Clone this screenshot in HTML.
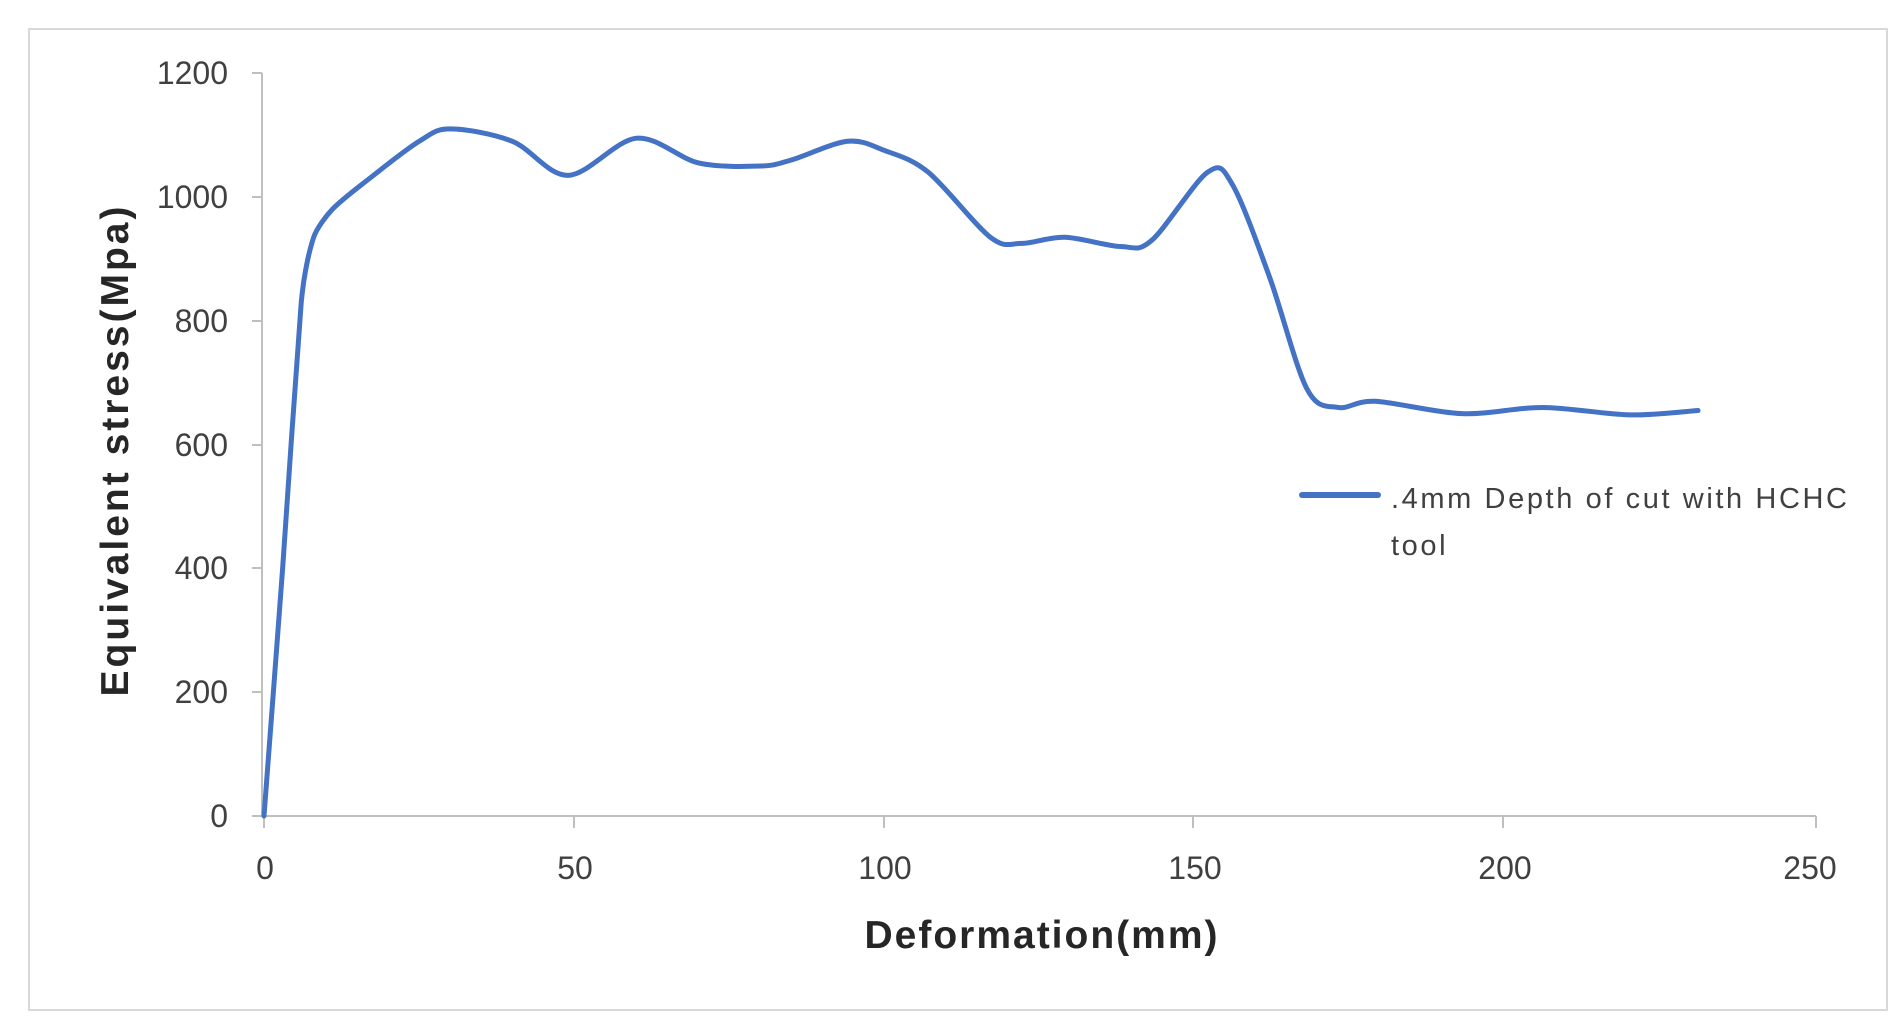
<!DOCTYPE html>
<html><head><meta charset="utf-8"><style>
body{margin:0;background:#fff;}
svg{display:block;}
text{font-family:"Liberation Sans",sans-serif;}
</style></head><body>
<svg width="1889" height="1022" viewBox="0 0 1889 1022" xmlns="http://www.w3.org/2000/svg">
<rect x="29" y="29" width="1858" height="981" fill="#fff" stroke="#d9d9d9" stroke-width="2"/>
<g stroke="#bfbfbf" stroke-width="2" fill="none">
<line x1="262" y1="73" x2="262" y2="816"/>
<line x1="262" y1="816" x2="1816" y2="816"/>
<line x1="252" y1="73" x2="262" y2="73"/>
<line x1="252" y1="197" x2="262" y2="197"/>
<line x1="252" y1="321" x2="262" y2="321"/>
<line x1="252" y1="445" x2="262" y2="445"/>
<line x1="252" y1="568" x2="262" y2="568"/>
<line x1="252" y1="692" x2="262" y2="692"/>
<line x1="252" y1="816" x2="262" y2="816"/>
<line x1="264" y1="816" x2="264" y2="828"/>
<line x1="574" y1="816" x2="574" y2="828"/>
<line x1="884" y1="816" x2="884" y2="828"/>
<line x1="1193" y1="816" x2="1193" y2="828"/>
<line x1="1503" y1="816" x2="1503" y2="828"/>
<line x1="1816" y1="816" x2="1816" y2="828"/>
</g>
<g fill="#404040" font-size="32" text-anchor="end">
<text x="228" y="84">1200</text>
<text x="228" y="208">1000</text>
<text x="228" y="332">800</text>
<text x="228" y="456">600</text>
<text x="228" y="579">400</text>
<text x="228" y="703">200</text>
<text x="228" y="827">0</text>
</g>
<g fill="#404040" font-size="32" text-anchor="middle">
<text x="265" y="879">0</text>
<text x="575" y="879">50</text>
<text x="885" y="879">100</text>
<text x="1195" y="879">150</text>
<text x="1505" y="879">200</text>
<text x="1810" y="879">250</text>
</g>
<text x="1042" y="948" font-size="39" font-weight="bold" fill="#262626" text-anchor="middle" letter-spacing="2">Deformation(mm)</text>
<text transform="translate(128,450) rotate(-90)" font-size="39" font-weight="bold" fill="#262626" text-anchor="middle" letter-spacing="3">Equivalent stress(Mpa)</text>
<path id="curve" fill="none" stroke="#4472C4" stroke-width="5" stroke-linejoin="round" stroke-linecap="round"/>
<line x1="1302" y1="495" x2="1378" y2="495" stroke="#4472C4" stroke-width="6" stroke-linecap="round"/>
<text x="1391" y="508" font-size="29" fill="#404040" letter-spacing="2.6">.4mm Depth of cut with HCHC</text>
<text x="1391" y="555" font-size="29" fill="#404040" letter-spacing="2.6">tool</text>
</svg>
<script>
var d=[[0,0],[3,400],[6,830],[8,935],[11,980],[17,1030],[25,1090],[30,1110],[40,1090],[49,1035],[60,1095],[70,1055],[80,1050],[85,1060],[94,1090],[100,1075],[107,1040],[117,935],[122,925],[129,935],[138,920],[143,930],[152,1040],[156,1020],[162,870],[168,690],[173,660],[179,670],[193,650],[206,660],[220,648],[231,655]];
var p=d.map(function(a){return [264+a[0]*6.208,816-a[1]*0.619];});
var s="M"+p[0][0]+","+p[0][1];
for(var i=0;i<p.length-1;i++){var p0=p[Math.max(0,i-1)],p1=p[i],p2=p[i+1],p3=p[Math.min(p.length-1,i+2)];var t=i<4?0.1:0.16;
s+=" C"+(p1[0]+(p2[0]-p0[0])*t)+","+(p1[1]+(p2[1]-p0[1])*t)+" "+(p2[0]-(p3[0]-p1[0])*t)+","+(p2[1]-(p3[1]-p1[1])*t)+" "+p2[0]+","+p2[1];}
document.getElementById("curve").setAttribute("d",s);
</script>
</body></html>
